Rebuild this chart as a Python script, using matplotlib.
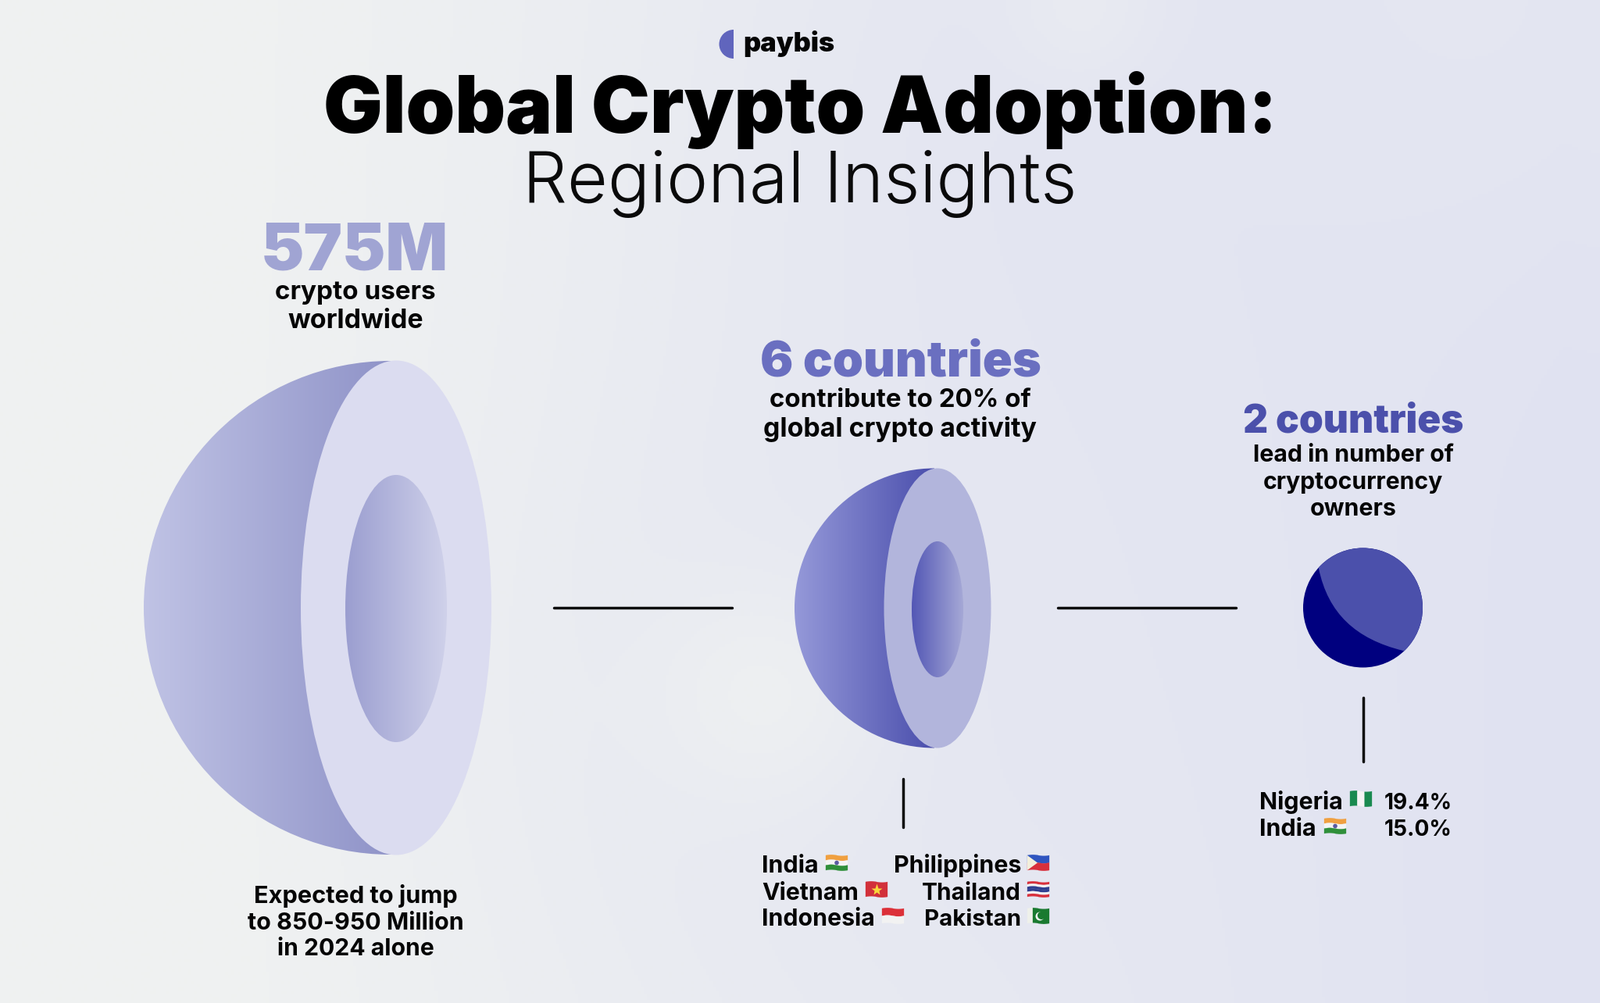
import numpy as np
import matplotlib
matplotlib.use("Agg")
import matplotlib.pyplot as plt
from matplotlib.colors import LinearSegmentedColormap, to_rgb
from matplotlib.patches import Wedge, Ellipse, Circle, Polygon, PathPatch
from matplotlib.path import Path

# Texts and values
logo_text = "paybis"
title_bold = "Global Crypto Adoption:"
title_light = "Regional Insights"
big_numbers = ["575M", "6 countries", "2 countries"]
users_lines = ["crypto users", "worldwide"]
activity_lines = ["contribute to 20% of", "global crypto activity"]
owners_lines = ["lead in number of", "cryptocurrency", "owners"]
forecast_lines = ["Expected to jump", "to 850-950 Million", "in 2024 alone"]
countries_left = ["India", "Vietnam", "Indonesia"]
countries_right = ["Philippines", "Thailand", "Pakistan"]
owner_countries = ["Nigeria", "India"]
owner_shares = ["19.4%", "15.0%"]

W, H = 2048, 1284
plt.rcParams['font.family'] = ['Inter', 'DejaVu Sans']

fig = plt.figure(figsize=(W / 100, H / 100), dpi=100)
ax = fig.add_axes([0, 0, 1, 1])
ax.axis('off')


def blob(xx, yy, cx, cy, r):
    return np.exp(-((xx - cx) ** 2 + (yy - cy) ** 2) / (2 * r ** 2))


# Background: soft lavender wash, with a pale spot and a halo round the middle
yy, xx = np.mgrid[0:H:4, 0:W:4]
base = np.array(to_rgb('#f0f2f1'))
tint = np.array(to_rgb('#e0e2f1'))
amount = np.clip((xx - 200) / 1800, 0, 1) ** 1.15
amount = amount + 0.22 * blob(xx, yy, 1000, 880, 300) - 0.45 * blob(xx, yy, 990, 885, 110)
amount = amount + 0.2 * blob(xx, yy, 1250, 150, 320) - 0.3 * blob(xx, yy, 1385, 10, 70)
amount = amount - 0.25 * blob(xx, yy, 2048, 0, 280)
amount = np.clip(amount, 0, 1)[..., None]
ax.imshow(base * (1 - amount) + tint * amount, extent=(0, W, H, 0), aspect='auto', zorder=0)


def gradient(patch, c0, c1, x0, x1, y0, y1, z):
    cmap = LinearSegmentedColormap.from_list('g', [c0, c1])
    im = ax.imshow(np.linspace(0, 1, 256)[None, :], cmap=cmap, extent=(x0, x1, y1, y0),
                   aspect='auto', zorder=z)
    patch.set(facecolor='none', edgecolor='none')
    ax.add_patch(patch)
    im.set_clip_path(patch)


# Large hemisphere
gradient(Wedge((500, 778), 316, 90, 270), '#c0c3e5', '#8f93c8', 184, 500, 462, 1094, 2)
ax.add_patch(Ellipse((507, 778), 244, 633, fc='#dbdcf0', ec='none', zorder=3))
gradient(Ellipse((507, 779), 130, 342), '#9b9ed0', '#cfd1ea', 442, 572, 608, 950, 4)

# Medium hemisphere
gradient(Wedge((1196, 778.5), 179, 90, 270), '#9599d9', '#4a4eac', 1017, 1196, 599, 958, 2)
ax.add_patch(Ellipse((1200, 778.5), 137, 358, fc='#b2b5dc', ec='none', zorder=3))
gradient(Ellipse((1200, 780), 66, 174), '#5357b5', '#a5a8d6', 1167, 1233, 693, 867, 4)

# Small disc with its lighter face
disc = Circle((1744.5, 778), 76.5, fc='#00007f', ec='none', zorder=2)
ax.add_patch(disc)
verts = [(1688, 728), (1700, 785), (1735, 818), (1796, 833), (1850, 860), (1850, 680), (1688, 680), (1688, 728)]
codes = [Path.MOVETO, Path.CURVE4, Path.CURVE4, Path.CURVE4, Path.LINETO, Path.LINETO, Path.LINETO, Path.CLOSEPOLY]
face = PathPatch(Path(verts, codes), fc='#4b50ab', ec='none', zorder=3)
ax.add_patch(face)
face.set_clip_path(disc)

# Connector lines
for x0, y0, x1, y1 in [(709, 778, 937, 778), (1354, 778, 1582, 778),
                       (1156, 997, 1156, 1059), (1745, 893, 1745, 975)]:
    ax.plot([x0, x1], [y0, y1], color='#0a0a0a', lw=2.5, solid_capstyle='round', zorder=5)


def put(s, x, y, width, ha='center', weight=700, color='#050505'):
    # Scale the font so the string is as wide as in the picture
    t = ax.text(x, y, s, ha=ha, va='baseline', fontsize=20, fontweight=weight, color=color, zorder=6)
    w = t.get_window_extent(fig.canvas.get_renderer()).width
    t.set_fontsize(20 * width / w)
    return t


# Logo and title
ax.add_patch(Wedge((939, 56.5), 18.5, 90, 270, fc='#6065bd', ec='none', zorder=5))
put(logo_text, 951, 66, 117, ha='left', weight=900)
put(title_bold, 1025, 170, 1222, weight=900, color='#000000')
put(title_light, 1024, 259, 709, weight=300, color='#0a0a0a')

# Headline numbers
put(big_numbers[0], 454, 345, 240, weight=900, color='#a0a4d3')
put(big_numbers[1], 1153, 482, 360, weight=900, color='#6a6fc0')
put(big_numbers[2], 1732, 553, 282, weight=900, color='#4b50ab')

# Captions
for s, y, w in zip(users_lines, [383, 420], [206, 174]):
    put(s, 455, y, w)
for s, y, w in zip(activity_lines, [521, 559], [335, 350]):
    put(s, 1152, y, w)
for s, y, w in zip(owners_lines, [591, 626, 660], [258, 231, 111]):
    put(s, 1732, y, w)
for s, y, w in zip(forecast_lines, [1156, 1190, 1223], [261, 277, 201]):
    put(s, 455, y, w)


def wave(x, u):
    # Gentle ripple along the flag, as in the emoji artwork
    return 0.8 * np.sin(2 * np.pi * (x - u) / 28 + np.pi)


def stripes(x, y, colors, w=28, h=19, vertical=False):
    n = len(colors)
    us = np.linspace(x, x + w, 15)
    for i, c in enumerate(colors):
        if vertical:
            part = us[(us >= x + i * w / n - 2) & (us <= x + (i + 1) * w / n + 2)]
            part = np.clip(np.r_[x + i * w / n, part, x + (i + 1) * w / n], x + i * w / n, x + (i + 1) * w / n)
            top = y + wave(part, x)
            pts = np.r_[np.c_[part, top], np.c_[part[::-1], top[::-1] + h]]
        else:
            top = y + i * h / n + wave(us, x)
            pts = np.r_[np.c_[us, top], np.c_[us[::-1], top[::-1] + h / n]]
        ax.add_patch(Polygon(pts, fc=c, ec=c, lw=0.2, zorder=6))


def flag_india(x, y):
    stripes(x, y, ['#f0a040', '#f4f4f4', '#2f8f3a'])
    ax.add_patch(Circle((x + 14, y + 9.5), 2.8, fc='#5a5aa0', ec='none', zorder=7))


def flag_philippines(x, y):
    stripes(x, y, ['#2f55c0', '#d8303c'])
    ax.add_patch(Polygon([(x, y), (x + 13, y + 9.5), (x, y + 19)], fc='#f2efdc', ec='none', zorder=7))


def flag_vietnam(x, y):
    stripes(x, y, ['#d2303a'])
    ax.plot([x + 14], [y + 9.5], marker='*', ms=11, color='#f8d83a', mec='none', zorder=7)


def flag_pakistan(x, y):
    stripes(x, y, ['#eef0ea', '#1a7a30', '#1a7a30', '#1a7a30'], vertical=True)
    ax.add_patch(Circle((x + 16, y + 10), 5.5, fc='#f4f4f4', ec='none', zorder=7))
    ax.add_patch(Circle((x + 18, y + 9), 5, fc='#1a7a30', ec='none', zorder=7))


# Country lists with flags
for s, y, w in zip(countries_left, [1117, 1152, 1185], [73, 124, 145]):
    put(s, 975, y, w, ha='left')
for s, y, w in zip(countries_right, [1117, 1152, 1185], [164, 127, 124]):
    put(s, 1307, y, w, ha='right')

flag_india(1057, 1095)
flag_vietnam(1108, 1129)
stripes(1129, 1163, ['#dc3038', '#f2f2f2'])
flag_philippines(1315, 1095)
stripes(1315, 1129, ['#d8303c', '#f4f4f4', '#2f3f90', '#2f3f90', '#f4f4f4', '#d8303c'])
flag_pakistan(1315, 1163)

for s, y, w in zip(owner_countries, [1036, 1070], [107, 73]):
    put(s, 1612, y, w, ha='left')
for s, y in zip(owner_shares, [1036, 1070]):
    put(s, 1859, y, 87, ha='right')
stripes(1728, 1013, ['#1a8a50', '#f4f4f4', '#1a8a50'], vertical=True)
flag_india(1695, 1048)

ax.set_xlim(0, W)
ax.set_ylim(H, 0)
fig.savefig('out.png', dpi=100)
